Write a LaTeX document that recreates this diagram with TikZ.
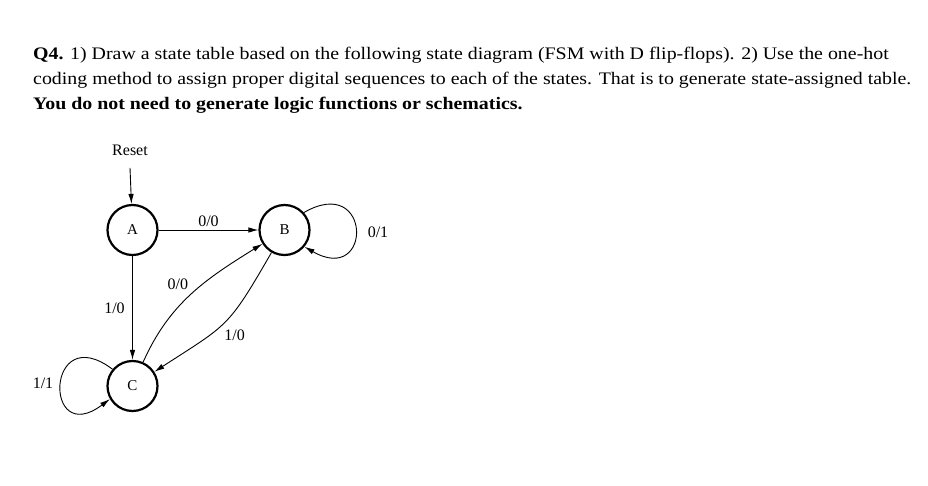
\documentclass[tikz,border=0pt]{standalone}
\usepackage{fontspec}
\setmainfont{Liberation Serif}
\newfontfamily\questionfont[FakeStretch=1.13]{Liberation Serif}
\usetikzlibrary{arrows.meta, positioning}

\begin{document}
\begin{tikzpicture}[x=1pt, y=1pt, node distance = 152pt, on grid, auto]
\tikzstyle{state} = [circle, draw, line width=2.2pt, minimum size=50pt,
    inner sep=0pt, font=\fontsize{15}{15}\selectfont]
\tikzstyle{line} = [draw, line width=0.9pt, -{Latex[length=10pt, width=5.5pt]}]
\tikzstyle{lbl} = [font=\fontsize{16}{16}\selectfont]
\tikzstyle{para} = [anchor=base west, inner sep=0pt, font=\questionfont\fontsize{17.6}{17.6}\selectfont]
    \useasboundingbox (0,0) rectangle (928,-486);
    % Question text
    \node [para] (line1) at (33,-60) {\textbf{Q4.} 1) Draw a state table based on the following state diagram (FSM with D flip-flops). 2) Use the one-hot};
    \node [para] (line2) at (33,-85) {coding method to assign proper digital sequences to each of the states. That is to generate state-assigned table.};
    \node [para] (line3) at (33,-110) {\textbf{You do not need to generate logic functions or schematics.}};

    % Place nodes
    \node [state] (A) at (132.5,-230) {A};
    \node [state, right=of A] (B) {B};
    \node [state, below=156pt of A] (C) {C};
    \node [lbl] (reset) at (130,-150) {Reset};

%paths
    \path [line] ([yshift=-9pt]reset.south) -- (A);
    \path [line] (A) -- node [lbl, above] {0/0} (B);
    \path [line] (A) -- node [lbl, left=4pt] {1/0} (C);
    \path [line] (C) to [out=66, in=212] node [lbl, pos=0.5, above left] {0/0} (B);
    \path [line] (B) to [out=240, in=33, looseness=1.35] node [lbl, pos=0.54, below right] {1/0} (C);
    \path [line] (B.42) .. controls +(30:79) and +(-30:79) .. (B.-40);
    \path [line] (C.140) .. controls +(143:84) and +(217:84) .. (C.210);
    \node [lbl] (loopB) at (378,-232) {0/1};
    \node [lbl] (loopC) at (43,-383) {1/1};

\end{tikzpicture}
\end{document}
